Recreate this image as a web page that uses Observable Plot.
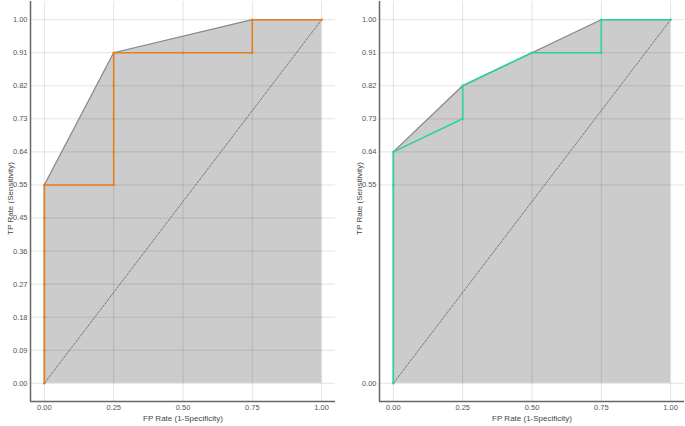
<!DOCTYPE html>
<html>
<head>
<meta charset="utf-8">
<script src="https://cdn.jsdelivr.net/npm/d3@7"></script>
<script src="https://cdn.jsdelivr.net/npm/@observablehq/plot@0.6"></script>
<style>
  body { margin: 0; background: #fff; }
  #wrap { position: relative; width: 685px; height: 426px; font-family: "Liberation Sans", Arial, sans-serif; }
  #p1 { position: absolute; left: 0; top: 0; }
  #p2 { position: absolute; left: 349px; top: 0; }
</style>
</head>
<body>
<div id="wrap"><div id="p1"></div><div id="p2"></div></div>
<script>
// Left panel: ROC curve (orange)
const fpr1 = [0, 0, 0, 0, 0, 0, 0, 0.25, 0.25, 0.25, 0.25, 0.25, 0.5, 0.75, 0.75, 1];
const tpr1 = [0, 0.0909, 0.1818, 0.2727, 0.3636, 0.4545, 0.5455, 0.5455, 0.6364, 0.7273, 0.8182, 0.9091, 0.9091, 0.9091, 1, 1];
const hullFpr1 = [0, 0, 0.25, 0.75, 1];
const hullTpr1 = [0, 0.5455, 0.9091, 1, 1];
const yTicks1 = [0, 0.0909, 0.1818, 0.2727, 0.3636, 0.4545, 0.5455, 0.6364, 0.7273, 0.8182, 0.9091, 1];

// Right panel: ROC curve (green)
const fpr2 = [0, 0, 0, 0.25, 0.25, 0.5, 0.75, 0.75, 1];
const tpr2 = [0, 0.5455, 0.6364, 0.7273, 0.8182, 0.9091, 0.9091, 1, 1];
const hullFpr2 = [0, 0, 0.25, 0.5, 0.75, 1];
const hullTpr2 = [0, 0.6364, 0.8182, 0.9091, 1, 1];
const yTicks2 = [0, 0.5455, 0.6364, 0.7273, 0.8182, 0.9091, 1];

const xTicks = [0, 0.25, 0.5, 0.75, 1];
const diagFpr = [0, 1];
const diagTpr = [0, 1];

const xLabel = "FP Rate (1-Specificity)";
const yLabel = "TP Rate (Sensitivity)";

function zip(xs, ys) { return xs.map((x, i) => ({x, y: ys[i]})); }

function panel({roc, hull, yTicks, color, width, marginRight}) {
  const fmt = d3.format(".2f");
  return Plot.plot({
    width, height: 426,
    marginLeft: 30, marginRight, marginTop: 1, marginBottom: 25,
    style: {fontFamily: '"Liberation Sans", Arial, sans-serif', background: "#fff", overflow: "visible"},
    x: {domain: [-0.05, 1.05]},
    y: {domain: [-0.05, 1.05]},
    marks: [
      Plot.areaY(hull, {x: "x", y: "y", fill: "#cccccc"}),
      Plot.gridX(xTicks, {stroke: "#000", strokeOpacity: 0.11, strokeWidth: 1}),
      Plot.gridY(yTicks, {stroke: "#000", strokeOpacity: 0.11, strokeWidth: 1}),
      Plot.line(hull, {x: "x", y: "y", stroke: "#8a8a8a", strokeWidth: 1.2}),
      Plot.line(zip(diagFpr, diagTpr), {x: "x", y: "y", stroke: "#666", strokeWidth: 0.8, strokeDasharray: "2.5,1.5"}),
      Plot.line(roc, {x: "x", y: "y", stroke: color, strokeWidth: 1.6}),
      Plot.dot(roc, {x: "x", y: "y", r: 1.2, fill: color}),
      Plot.ruleX([-0.05], {stroke: "#666", strokeWidth: 1.5}),
      Plot.ruleY([-0.05], {stroke: "#666", strokeWidth: 1.5}),
      Plot.axisY({ticks: yTicks, tickFormat: fmt, tickSize: 0, tickPadding: 3, fontSize: 7.5, color: "#555", label: null}),
      Plot.axisX({ticks: xTicks, tickFormat: fmt, tickSize: 0, tickPadding: 3, fontSize: 7.5, color: "#555", label: null}),
      Plot.text([xLabel], {text: d => d, frameAnchor: "bottom", dy: 19, fontSize: 8, fill: "#444"}),
      Plot.text([yLabel], {text: d => d, frameAnchor: "left", textAnchor: "middle", dx: -20, dy: -3, rotate: -90, fontSize: 8, fill: "#444"})
    ]
  });
}

document.getElementById("p1").appendChild(panel({
  roc: zip(fpr1, tpr1), hull: zip(hullFpr1, hullTpr1), yTicks: yTicks1,
  color: "#e67e22", width: 342, marginRight: 7
}));
document.getElementById("p2").appendChild(panel({
  roc: zip(fpr2, tpr2), hull: zip(hullFpr2, hullTpr2), yTicks: yTicks2,
  color: "#2ad49b", width: 336, marginRight: 1
}));
</script>
</body>
</html>
